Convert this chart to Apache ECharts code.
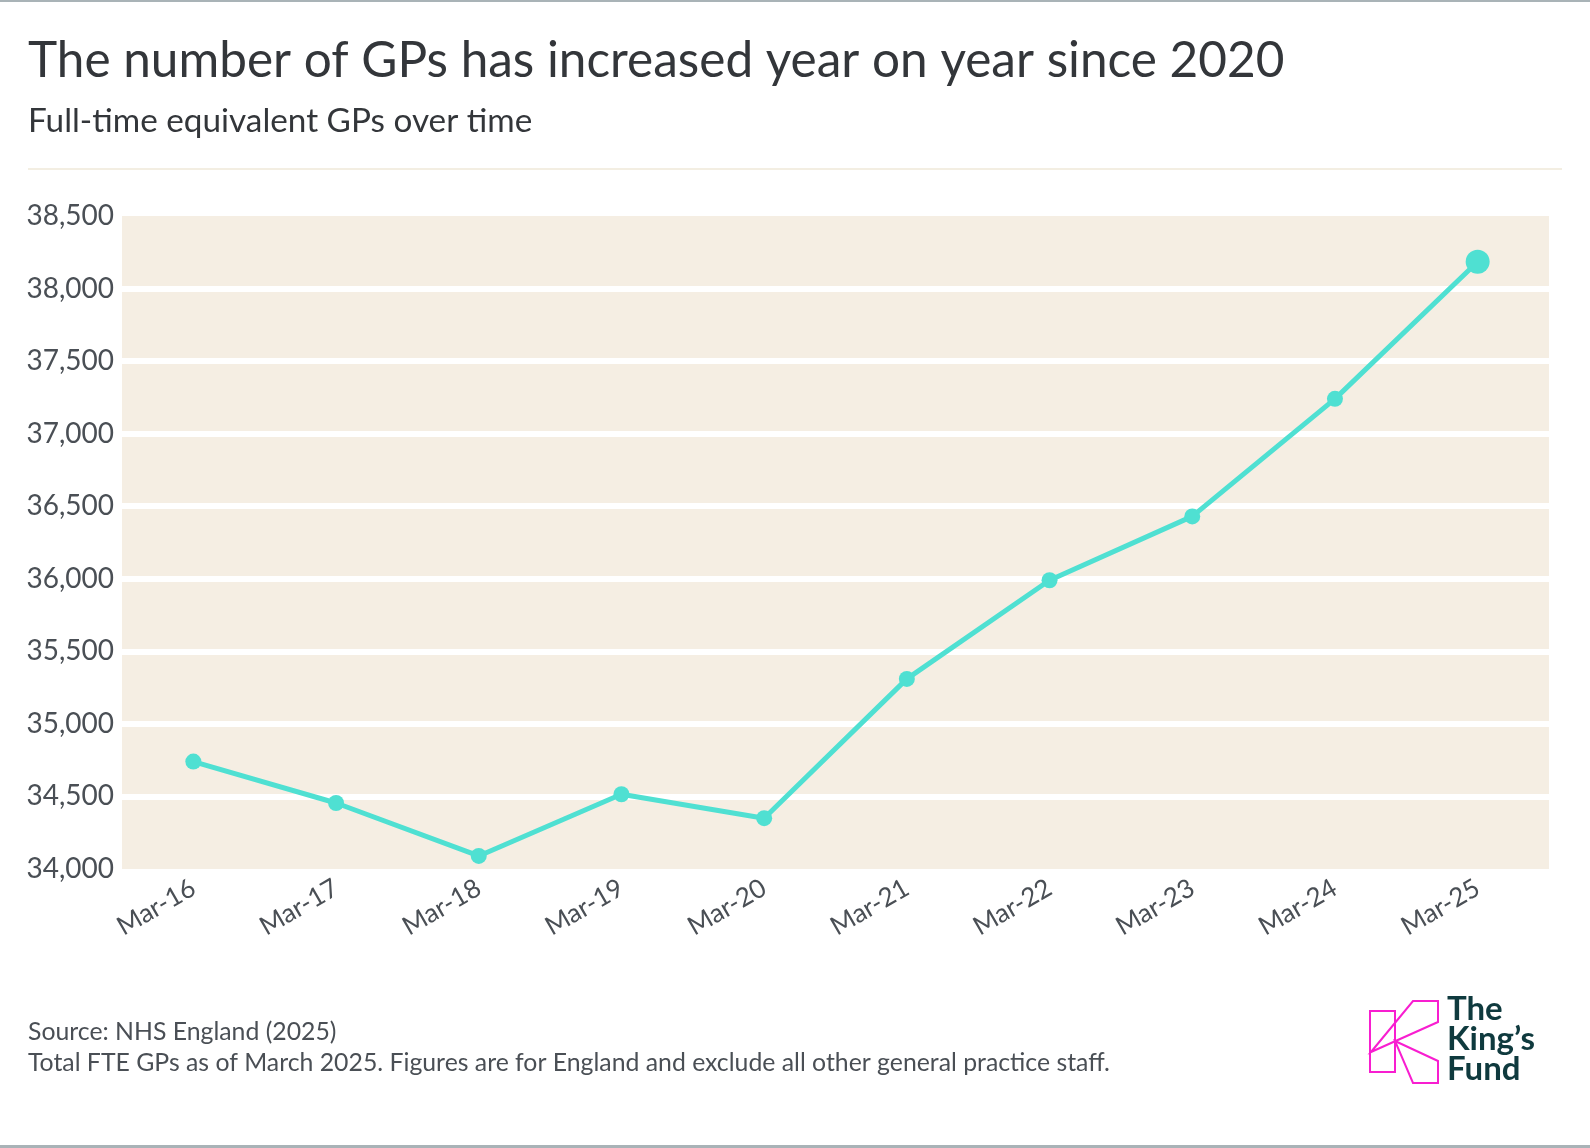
<!DOCTYPE html>
<html>
<head>
<meta charset="utf-8">
<script src="https://cdn.jsdelivr.net/npm/echarts@6/dist/echarts.min.js"></script>
<style>
  html, body { margin: 0; padding: 0; background: #fff; }
  #main { width: 1590px; height: 1148px; }
</style>
</head>
<body>
<div id="main"></div>
<script>
var months = ['Mar-16', 'Mar-17', 'Mar-18', 'Mar-19', 'Mar-20', 'Mar-21', 'Mar-22', 'Mar-23', 'Mar-24', 'Mar-25'];
var fteGPs = [34740, 34455, 34090, 34515, 34350, 35310, 35990, 36430, 37240, 38185];
var yMin = 34000, yMax = 38500, yStep = 500;

var font = 'Lato, "Open Sans", sans-serif';
var teal = '#4fe0d2';
var pink = '#f81ed0';

var points = fteGPs.map(function (v, i) {
    if (i === fteGPs.length - 1) {
        return { value: v, symbolSize: 24 };
    }
    return v;
});

var myChart = echarts.init(document.getElementById('main'));
option = {
    backgroundColor: '#fff',
    animation: false,
    grid: { left: 122, right: 41, top: 216, bottom: 279 },
    xAxis: {
        type: 'category',
        data: months,
        boundaryGap: true,
        axisLine: { show: false },
        axisTick: { show: false },
        axisLabel: {
            rotate: 30,
            margin: 17,
            fontFamily: font,
            fontSize: 26,
            color: '#4a4f55'
        }
    },
    yAxis: {
        type: 'value',
        min: yMin,
        max: yMax,
        interval: yStep,
        axisLine: { show: false },
        axisTick: { show: false },
        axisLabel: {
            margin: 8,
            fontFamily: font,
            fontSize: 28,
            color: '#4a4f55',
            formatter: function (v) { return v.toLocaleString('en-US'); }
        },
        splitArea: { show: true, areaStyle: { color: ['#f5eee3', '#f5eee3'] } },
        splitLine: { show: true, showMinLine: false, showMaxLine: false, lineStyle: { color: '#fff', width: 6 } }
    },
    series: [
        {
            type: 'line',
            data: points,
            symbol: 'circle',
            symbolSize: 16,
            lineStyle: { color: teal, width: 5 },
            itemStyle: { color: teal }
        }
    ],
    graphic: [
        { type: 'rect', shape: { x: 0, y: 0, width: 1590, height: 2 }, style: { fill: '#a9b3b7' } },
        { type: 'rect', shape: { x: 0, y: 1145, width: 1590, height: 3 }, style: { fill: '#a9b3b7' } },
        { type: 'text', x: 28, y: 61, style: { text: 'The number of GPs has increased year on year since 2020', font: '49.5px ' + font, fill: '#33363a', verticalAlign: 'middle' } },
        { type: 'text', x: 28, y: 121, style: { text: 'Full-time equivalent GPs over time', font: '33.3px ' + font, fill: '#33363a', verticalAlign: 'middle' } },
        { type: 'rect', shape: { x: 28, y: 168, width: 1534, height: 2 }, style: { fill: '#f3eee2' } },
        { type: 'text', x: 28, y: 1032, style: { text: 'Source: NHS England (2025)', font: '24.8px ' + font, fill: '#4a4f55', verticalAlign: 'middle' } },
        { type: 'text', x: 28, y: 1063, style: { text: 'Total FTE GPs as of March 2025. Figures are for England and exclude all other general practice staff.', font: '24.8px ' + font, fill: '#4a4f55', verticalAlign: 'middle' } },
        // logo
        { type: 'rect', shape: { x: 1370, y: 1011, width: 25, height: 61 }, style: { fill: 'none', stroke: pink, lineWidth: 2 } },
        { type: 'polygon', shape: { points: [[1371, 1052], [1413, 1001], [1438, 1001], [1438, 1022]] }, style: { fill: 'none', stroke: pink, lineWidth: 2 } },
        { type: 'polygon', shape: { points: [[1395, 1041], [1438, 1061], [1438, 1083], [1413, 1083]] }, style: { fill: 'none', stroke: pink, lineWidth: 2 } },
        { type: 'text', x: 1447, y: 1026, style: { text: 'The', font: 'bold 33px ' + font, fill: '#0f3a3e', verticalAlign: 'bottom' } },
        { type: 'text', x: 1447, y: 1056, style: { text: 'King\u2019s', font: 'bold 33px ' + font, fill: '#0f3a3e', verticalAlign: 'bottom' } },
        { type: 'text', x: 1447, y: 1086, style: { text: 'Fund', font: 'bold 33px ' + font, fill: '#0f3a3e', verticalAlign: 'bottom' } }
    ]
};

myChart.setOption(option);
</script>
</body>
</html>
